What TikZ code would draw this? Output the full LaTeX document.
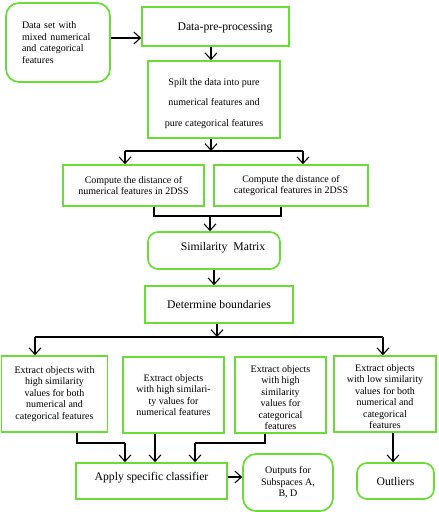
\documentclass[tikz,border=0pt]{standalone}
\usepackage{fontspec}
\setmainfont{Liberation Serif}
\usetikzlibrary{arrows.meta,calc}
\definecolor{boxgreen}{RGB}{104,222,52}
\tikzset{
  box/.style={draw=boxgreen, line width=1.7pt, fill=white, inner sep=0pt, align=center, font=\fontsize{10}{11.5}\selectfont},
  rbox/.style={box, rounded corners=10pt},
  txt/.style={inner sep=0pt, align=center, font=\fontsize{10}{11.5}\selectfont},
  big/.style={font=\fontsize{11.7}{14}\selectfont},
  arr/.style={line width=1.1pt, -{Straight Barb[length=6.5pt,width=12pt,line width=1.1pt]}},
  ln/.style={line width=1.1pt},
}
\begin{document}
\begin{tikzpicture}[x=1pt,y=-1pt]
\useasboundingbox (0,0) rectangle (439,512);
% nodes
\node[rbox, rounded corners=13pt, minimum width=104, minimum height=79, text width=72, align=left] (ds) at (58,42.5) {Data set with\\mixed numerical\\and categorical\\features};
\node[box, minimum width=147, minimum height=39] (pre) at (215.5,26.5) {};
\node[txt, big] (preT) at (225,28) {Data-pre-processing};
\node[box, minimum width=132, minimum height=77] (split) at (214,99.5) {};
\node[txt, font=\fontsize{10}{20.5}\selectfont] (splitT) at (214,103.5) {Spilt the data into pure\\numerical features and\\pure categorical features};
\node[box, minimum width=141, minimum height=41] (cl) at (133.5,185.5) {Compute the distance of\\numerical features in 2DSS};
\node[box, minimum width=154, minimum height=41] (cr) at (291,185.5) {Compute the distance of\\categorical features in 2DSS};
\node[rbox, minimum width=132, minimum height=37] (sim) at (214,250.5) {};
\node[txt, big] (simT) at (223,247.5) {Similarity\ \ Matrix};
\node[box, big, minimum width=148, minimum height=37] (det) at (219,304.5) {Determine boundaries};
\node[box, minimum width=106, minimum height=76] (b1) at (54.5,394) {Extract objects with\\high similarity\\values for both\\numerical and\\categorical features};
\node[box, minimum width=101, minimum height=76] (b2) at (173.5,395) {Extract objects\\with high similari-\\ty values for\\numerical features};
\node[box, minimum width=91, minimum height=76] (b3) at (280.5,395) {};
\node[txt] (b3T) at (280.5,397.5) {Extract objects\\with high\\similarity\\values for\\categorical\\features};
\node[box, minimum width=102, minimum height=76] (b4) at (385,394) {};
\node[txt] (b4T) at (385,396.5) {Extract objects\\with low similarity\\values for both\\numerical and\\categorical\\features};
\node[box, minimum width=151, minimum height=36] (apply) at (151.5,481) {};
\node[txt, big] (applyT) at (151.5,477.5) {Apply specific classifier};
\node[rbox, rounded corners=13pt, minimum width=90, minimum height=57] (out) at (288,482.5) {Outputs for\\Subspaces A,\\B, D};
\node[rbox, big, minimum width=77, minimum height=36] (outl) at (395.5,481) {Outliers};
% helper coordinates
\coordinate (j1) at (211,151);
\coordinate (h1) at (125,151);
\coordinate (h2) at (303,151);
\coordinate (m1) at (154,216);
\coordinate (m2) at (281,216);
\coordinate (mj) at (210,216);
\coordinate (d0) at (217,337);
\coordinate (d1) at (35,337);
\coordinate (d2) at (383,337);
\coordinate (e1) at (77,443);
\coordinate (e1b) at (125,443);
\coordinate (e2) at (155,443);
\coordinate (e3) at (265,443);
\coordinate (e3b) at (195,443);
\coordinate (o4) at (393,443);
% connectors
\draw[arr] ([yshift=4.5pt]ds.east) -- ([yshift=4.5pt]ds.east -| pre.west);
\draw[arr] (pre.south -| j1) -- (split.north -| j1);
\draw[arr] (split.south -| j1) -- (j1);
\draw[ln] (h1) -- (h2);
\draw[arr] (h1) -- (h1 |- cl.north);
\draw[arr] (h2) -- (h2 |- cr.north);
\draw[ln] (cl.south -| m1) -- (m1) -- (m2) -- (cr.south -| m2);
\draw[arr] (mj) -- (mj |- sim.north);
\draw[arr] (sim.south) -- (det.north -| sim.south);
\draw[arr] (det.south -| d0) -- (d0);
\draw[ln] (d1) -- (d2);
\draw[arr] (d1) -- (d1 |- b1.north);
\draw[arr] (d2) -- (d2 |- b4.north);
\draw[ln] (b1.south -| e1) -- (e1) -- (e1b);
\draw[arr] (e1b) -- (e1b |- apply.north);
\draw[arr] (b2.south -| e2) -- (e2 |- apply.north);
\draw[ln] (b3.south -| e3) -- (e3) -- (e3b);
\draw[arr] (e3b) -- (e3b |- apply.north);
\draw[arr] ([yshift=4pt]apply.east) -- ([yshift=4pt]apply.east -| out.west);
\draw[arr] (b4.south -| o4) -- (o4 |- outl.north);
\end{tikzpicture}
\end{document}
